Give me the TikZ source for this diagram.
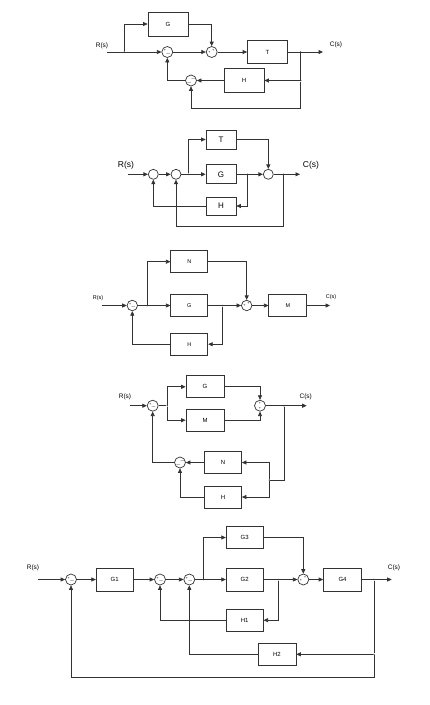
\documentclass[tikz,border=0pt]{standalone}
\usepackage{fontspec}
\setmainfont{Liberation Sans}
\usetikzlibrary{arrows.meta}
\begin{document}
\begin{tikzpicture}[x=1pt,y=-1pt,
  ln/.style={draw=black!80,line width=0.7pt},
  arr/.style={ln,-{Triangle[length=4.5pt,width=4pt]}},
  blk/.style={draw=black!80,line width=0.7pt,fill=white,inner sep=0pt,font=\fontsize{6}{6}\selectfont},
  sumn/.style={circle,draw=black!80,line width=0.7pt,minimum size=11pt,inner sep=0pt},
  sgn/.style={inner sep=0pt,font=\fontsize{3.5}{3.5}\selectfont},
  lab/.style={inner sep=0pt,font=\fontsize{6.5}{6.5}\selectfont},
  dotn/.style={circle,fill=black!80,inner sep=0pt,minimum size=1.6pt}]
\useasboundingbox (0,0) rectangle (430,705);

% ---------------- Diagram 1 ----------------
\node[lab] (R1) at (102,46) {R(s)};
\coordinate (in1) at (107,52);
\node[sumn] (s11) at (167.3,52) {};
\node[sumn] (s12) at (211.7,52) {};
\node[sumn] (s13) at (191,80.5) {};
\node[blk,minimum width=40pt,minimum height=24pt] (G1a) at (168,24) {G};
\node[blk,minimum width=40pt,minimum height=23pt] (T1) at (267.5,52) {T};
\node[blk,minimum width=40pt,minimum height=24pt] (H1a) at (244,80.5) {H};
\node[dotn] (b11) at (124.3,52) {};
\node[dotn] (b12) at (300.7,52) {};
\node[dotn] (b13) at (300.7,80.5) {};
\coordinate (out1) at (323,52);
\node[lab] (C1) at (336,45) {C(s)};
\draw[arr] (in1) -- (s11);
\draw[arr] (b11) |- (G1a);
\draw[arr] (G1a) -| (s12);
\draw[arr] (s11) -- (s12);
\draw[arr] (s12) -- (T1);
\draw[arr] (T1) -- (out1);
\draw[arr] (b12) |- (H1a);
\draw[arr] (H1a) -- (s13);
\draw[arr] (b13) -- ++(0,27.8) -| (s13);
\draw[arr] (s13) -| (s11);
\node[sgn] (p11) at ([shift={(-2.3,-1.2)}]s11.center) {+};
\node[sgn] (m11) at ([shift={(1,2)}]s11.center) {$-$};
\node[sgn] (p12) at ([shift={(-2.3,0.5)}]s12.center) {+};
\node[sgn] (q12) at ([shift={(1.8,-2)}]s12.center) {+};
\node[sgn] (m13) at ([shift={(2.3,-1.2)}]s13.center) {$-$};
\node[sgn] (n13) at ([shift={(-1.6,2.8)}]s13.center) {$-$};

% ---------------- Diagram 2 ----------------
\begin{scope}[blk/.append style={font=\fontsize{8}{8}\selectfont},lab/.append style={font=\fontsize{8.5}{8.5}\selectfont},sumn/.append style={minimum size=10pt}]
\node[lab] (R2) at (126,165) {R(s)};
\coordinate (in2) at (128.3,174.3);
\node[sumn] (s21) at (153.3,174.3) {};
\node[sumn] (s22) at (176,174.3) {};
\node[sumn] (s23) at (268.3,174.3) {};
\node[dotn] (b21) at (188.3,174.3) {};
\node[dotn] (b22) at (247.3,174.3) {};
\node[dotn] (b23) at (283.3,174.3) {};
\node[blk,minimum width=30pt,minimum height=19pt] (T2) at (221,139.5) {T};
\node[blk,minimum width=30pt,minimum height=19pt] (G2) at (221,174.3) {G};
\node[blk,minimum width=30pt,minimum height=18pt] (H2) at (221,206) {H};
\coordinate (out2) at (300,174.3);
\node[lab] (C2) at (311,165) {C(s)};
\draw[arr] (in2) -- (s21);
\draw[arr] (s21) -- (s22);
\draw[arr] (s22) -- (G2);
\draw[arr] (b21) |- (T2);
\draw[arr] (T2) -| (s23);
\draw[arr] (G2) -- (s23);
\draw[arr] (b22) |- (H2);
\draw[arr] (H2) -| (s21);
\draw[arr] (s23) -- (out2);
\draw[arr] (b23) -- ++(0,52.4) -| (s22);
\end{scope}

% ---------------- Diagram 3 ----------------
\begin{scope}[blk/.append style={font=\fontsize{5.5}{5.5}\selectfont},lab/.append style={font=\fontsize{5.5}{5.5}\selectfont},sumn/.append style={minimum size=10.5pt}]
\node[lab] (R3) at (98,298) {R(s)};
\coordinate (in3) at (101.7,305.5);
\node[sumn] (s31) at (132.3,305.5) {};
\node[sumn] (s32) at (246.7,305.5) {};
\node[dotn] (b31) at (147.7,305.5) {};
\node[dotn] (b32) at (222.7,305.5) {};
\node[blk,minimum width=37pt,minimum height=22pt] (N3) at (189.3,261.7) {N};
\node[blk,minimum width=37pt,minimum height=22pt] (G3) at (189.3,305.5) {G};
\node[blk,minimum width=37pt,minimum height=22pt] (H3) at (189.3,344.2) {H};
\node[blk,minimum width=38pt,minimum height=22pt] (M3) at (287.8,305.5) {M};
\coordinate (out3) at (330,305.5);
\node[lab] (C3) at (331,297) {C(s)};
\draw[arr] (in3) -- (s31);
\draw[arr] (s31) -- (G3);
\draw[arr] (b31) |- (N3);
\draw[arr] (N3) -| (s32);
\draw[arr] (G3) -- (s32);
\draw[arr] (b32) |- (H3);
\draw[arr] (H3) -| (s31);
\draw[arr] (s32) -- (M3);
\draw[arr] (M3) -- (out3);
\node[sgn] (p31) at ([shift={(-2.2,-1.2)}]s31.center) {+};
\node[sgn] (m31) at ([shift={(1,2)}]s31.center) {$-$};
\node[sgn] (p32) at ([shift={(-2.2,0.3)}]s32.center) {+};
\node[sgn] (q32) at ([shift={(1.8,-2)}]s32.center) {+};
\end{scope}

% ---------------- Diagram 4 ----------------
\node[lab] (R4) at (125,397) {R(s)};
\coordinate (in4) at (130,405.7);
\node[sumn] (s41) at (152.7,405.7) {};
\node[sumn] (s42) at (260,405.7) {};
\node[sumn] (s43) at (180,462.5) {};
\node[dotn] (b41) at (167.3,405.7) {};
\node[dotn] (b42) at (284,405.7) {};
\node[dotn] (b44) at (269.3,480) {};
\coordinate (b43) at (284,480);
\node[blk,minimum width=38pt,minimum height=22pt] (G4) at (205,386.8) {G};
\node[blk,minimum width=38pt,minimum height=22pt] (M4) at (205,420.2) {M};
\node[blk,minimum width=37pt,minimum height=22pt] (N4) at (223,462.5) {N};
\node[blk,minimum width=37pt,minimum height=22pt] (H4) at (223,497) {H};
\coordinate (out4) at (306.7,405.7);
\node[lab] (C4) at (305.7,397) {C(s)};
\draw[arr] (in4) -- (s41);
\draw[ln] (s41) -- (b41);
\draw[arr] (b41) |- (G4);
\draw[arr] (b41) |- (M4);
\draw[arr] (G4) -| (s42);
\draw[arr] (M4) -| (s42);
\draw[arr] (s42) -- (out4);
\draw[ln] (b42) -- (b43) -- (b44);
\draw[arr] (b44) |- (N4);
\draw[arr] (b44) |- (H4);
\draw[arr] (N4) -- (s43);
\draw[arr] (H4) -| (s43);
\draw[arr] (s43) -| (s41);
\node[sgn] (p41) at ([shift={(-2.3,-1.2)}]s41.center) {+};
\node[sgn] (m41) at ([shift={(1,2)}]s41.center) {$-$};
\node[sgn] (p42) at ([shift={(0,-2.3)}]s42.center) {+};
\node[sgn] (q42) at ([shift={(0,2.3)}]s42.center) {+};
\node[sgn] (m43) at ([shift={(2.3,-1.2)}]s43.center) {$-$};
\node[sgn] (n43) at ([shift={(-1.6,2.8)}]s43.center) {$-$};

% ---------------- Diagram 5 ----------------
\node[lab] (R5) at (33,568) {R(s)};
\coordinate (in5) at (38.3,579.5);
\node[sumn] (s51) at (71,579.5) {};
\node[sumn] (s52) at (160,579.5) {};
\node[sumn] (s53) at (189.3,579.5) {};
\node[sumn] (s54) at (303.3,579.5) {};
\node[dotn] (b51) at (203.3,579.5) {};
\node[dotn] (b52) at (278.3,579.5) {};
\node[dotn] (b53) at (374,579.5) {};
\node[dotn] (b54) at (374,654.3) {};
\node[blk,minimum width=37pt,minimum height=23pt] (G51) at (114.7,579.5) {G1};
\node[blk,minimum width=37pt,minimum height=22pt] (G53) at (244.7,537.5) {G3};
\node[blk,minimum width=37pt,minimum height=23pt] (G52) at (244.7,579.5) {G2};
\node[blk,minimum width=37pt,minimum height=22pt] (H51) at (244.7,620.2) {H1};
\node[blk,minimum width=38pt,minimum height=23pt] (G54) at (342.5,579.5) {G4};
\node[blk,minimum width=38pt,minimum height=22pt] (H52) at (277,654.3) {H2};
\coordinate (out5) at (391.7,579.5);
\node[lab] (C5) at (394,568) {C(s)};
\draw[arr] (in5) -- (s51);
\draw[arr] (s51) -- (G51);
\draw[arr] (G51) -- (s52);
\draw[arr] (s52) -- (s53);
\draw[arr] (s53) -- (G52);
\draw[arr] (b51) |- (G53);
\draw[arr] (G53) -| (s54);
\draw[arr] (G52) -- (s54);
\draw[arr] (b52) |- (H51);
\draw[arr] (H51) -| (s52);
\draw[arr] (s54) -- (G54);
\draw[arr] (G54) -- (out5);
\draw[ln] (b53) -- (b54);
\draw[arr] (b54) -- (H52);
\draw[arr] (H52) -| (s53);
\draw[arr] (b54) -- ++(0,23.4) -| (s51);
\node[sgn] (p51) at ([shift={(-2.3,-1.2)}]s51.center) {+};
\node[sgn] (m51) at ([shift={(1,2)}]s51.center) {$-$};
\node[sgn] (p52) at ([shift={(-2.3,-1.2)}]s52.center) {+};
\node[sgn] (m52) at ([shift={(1,2)}]s52.center) {$-$};
\node[sgn] (p53) at ([shift={(-2.3,-1.2)}]s53.center) {+};
\node[sgn] (m53) at ([shift={(1,2)}]s53.center) {$-$};
\node[sgn] (p54) at ([shift={(-2.3,0.5)}]s54.center) {+};
\node[sgn] (q54) at ([shift={(1.8,-2)}]s54.center) {+};
\end{tikzpicture}
\end{document}
